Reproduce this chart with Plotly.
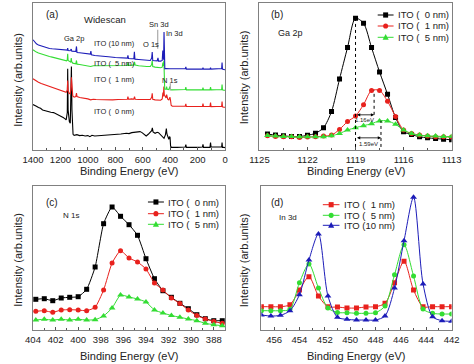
import plotly.graph_objects as go

# ---------------- Panel (a): wide scan ----------------
A0_EV = [1400,1390,1375,1360,1345,1330,1310,1290,1270,1250,1230,1210,1195,1180,1168,1158,1150,1147,1144,1140,1135,1128,1124,1120,1116,1112,1108,1100,1080,1060,1040,1020,1000,985,970,950,900,850,800,760,720,700,680,650,620,605,590,575,560,545,535,530,525,510,495,485,470,455,445,435,428,424,418,410,405,401,397,392,350,300,290,286,282,200,165,161,157,110,106,102,40,25,22,19,10,0]
A0_I = [136,133,131,127,125,120,117,115,113,112,108,105,102,97,94,90,112,243,120,95,85,80,140,250,120,60,47,44,46,43,44,42,43,40,44,42,43,45,46,48,50,49,52,54,55,52,48,42,47,54,58,66,54,50,53,52,46,40,35,45,64,48,38,32,40,38,12,8,8,8,9,16,8,8,9,17,8,8,22,9,8,9,22,8,8,7]

A1_EV = [1400,1390,1375,1360,1340,1320,1300,1280,1260,1240,1220,1200,1185,1170,1158,1150,1147,1144,1138,1130,1124,1120,1116,1110,1100,1088,1083,1079,1060,1040,1020,1000,980,960,940,900,860,820,780,740,712,708,704,680,665,660,655,630,600,570,545,535,531,527,510,495,470,458,453,450,446,443,437,430,426,423,418,410,402,398,393,385,350,300,290,286,282,200,165,161,157,110,106,102,40,25,22,19,10,0]
A1_I = [213,210,206,203,199,196,193,190,188,185,183,180,177,175,173,180,208,178,170,168,180,218,175,162,158,160,170,160,157,156,154,153,150,152,151,150,151,150,151,152,152,160,152,153,152,160,152,151,150,151,151,158,170,152,150,150,149,153,172,160,190,165,160,156,166,158,152,150,158,150,134,131,131,130,131,138,130,130,130,139,130,130,142,130,129,131,145,129,128,128]

A5_EV = [1400,1390,1375,1360,1340,1320,1300,1280,1260,1240,1220,1200,1180,1165,1155,1150,1147,1144,1135,1125,1121,1118,1110,1100,1088,1083,1079,1060,1040,1020,1000,980,960,900,850,800,760,712,708,704,680,665,660,655,630,600,570,545,535,531,527,510,495,470,458,453,450,446,443,440,430,426,422,410,402,398,390,350,300,290,286,282,200,165,161,157,110,106,102,40,25,22,19,10,0]
A5_I = [300,296,293,290,287,284,282,280,278,276,274,272,270,268,267,270,288,268,265,263,275,265,260,258,258,268,257,256,255,254,253,250,252,252,252,252,253,253,262,253,254,254,264,254,252,250,250,250,256,268,250,248,247,246,248,262,252,268,225,182,182,190,182,181,190,181,180,180,180,181,188,180,180,180,187,180,180,188,180,180,181,196,180,179,179]

A10_EV = [1400,1390,1375,1360,1340,1320,1300,1280,1260,1240,1220,1200,1180,1160,1150,1147,1144,1130,1121,1117,1100,1088,1083,1079,1060,1040,1020,1000,982,978,974,950,900,850,800,760,712,708,704,680,665,661,657,630,600,570,545,535,531,527,510,495,489,485,470,458,454,450,448,445,442,439,430,420,400,350,300,290,286,282,200,165,161,157,110,106,102,40,25,22,19,10,0]
A10_I = [330,324,318,314,311,308,305,304,303,302,301,300,299,298,299,305,298,297,302,296,295,295,310,292,291,290,289,288,287,296,285,283,280,279,277,276,275,283,274,273,273,294,272,271,270,269,268,275,293,268,267,267,276,266,266,268,298,272,270,353,260,243,244,243,243,243,242,243,249,242,242,242,246,242,242,246,242,242,244,262,242,241,240]

# ---------------- Panel (b): Ga 2p ----------------
B_EV = [1124.5,1124.0,1123.5,1123.0,1122.5,1122.0,1121.5,1121.0,1120.5,1120.0,1119.5,1119.0,
        1118.5,1118.0,1117.5,1117.0,1116.5,1116.0,1115.5,1115.0,1114.5,1114.0,1113.5,1113.0]
B_0NM = [15.7,14.7,14,13.3,13.3,14.5,16.5,22,38,70,101,130,125,101,77,55,32,18,15.3,13,12,11.3,10.7,10]
B_1NM = [14,13.3,13,13,12.3,12.7,13,13.7,14.7,20.3,28,33.5,44.7,58.7,58.7,48,33,19.7,16.3,14.7,13.7,13,13,12.7]
B_5NM = [14.3,13.7,13.3,13.3,13,13,13,13,14,16.3,19.7,22,24,26,28.7,28.7,25.3,19.7,16.3,14.7,14,13.7,13.3,13.3]

# ---------------- Panel (c): N 1s ----------------
C_EV = [403.75,403.0,402.25,401.5,400.75,400.0,399.25,398.5,397.75,397.0,396.25,395.5,
        394.75,394.0,393.25,392.5,391.75,391.0,390.25,389.5,388.75,388.0,387.25]
C_0NM = [30.7,31.3,29.3,32,32.7,33.3,40.7,63,106.3,123,113.7,105.3,94.7,71.3,51.3,39.3,32.7,26.7,21.3,15.3,11.3,9.3,9.3]
C_1NM = [18.7,19.3,17.7,20,20.3,20,19.3,22.7,40,67,79.3,72,68,61,47,40,32,26.5,20,14.5,11,8.5,6.7]
C_5NM = [10,10.7,10,10.7,10,10.7,10,10.3,14,22,35,33,31,28,20,17,14.5,12.7,11,9.3,6.7,5.3,4.3]

# ---------------- Panel (d): In 3d ----------------
D_EV = [457.0,456.25,455.5,454.75,454.0,453.25,452.5,451.75,451.0,450.25,449.5,448.75,
        448.0,447.25,446.5,445.75,445.0,444.25,443.5,442.75,442.0]
D_1NM = [23.3,23.3,23.3,25.3,40,53.3,34,23.3,23,22,22,23,23.3,26.7,47.3,68.7,40,23.3,23.3,23.3,23.3]
D_5NM = [19.3,19.3,19.3,20.7,47.3,66,42,22,17.5,17.3,16.7,16.7,17.3,24,55.3,85.3,54,21,16.7,16,16]
D_10NM = [15,14,14.7,19.3,35.3,70,96,34,12.7,10.7,10,10,10,14,42,89.3,132.7,46,13.3,9.3,8.7]

BLACK = "#000000"
RED = "#e8211d"
GREEN = "#33dd33"
BLUE = "#1c1cb8"
FONT = "Arial, 'Liberation Sans', sans-serif"

W, H = 474, 364
def px(x):
    return x / W
def py(y):
    return 1 - y / H

fig = go.Figure()

for xs, ys, col in [(A0_EV, A0_I, BLACK), (A1_EV, A1_I, RED), (A5_EV, A5_I, GREEN), (A10_EV, A10_I, BLUE)]:
    fig.add_trace(go.Scatter(x=xs, y=ys, mode="lines", line=dict(color=col, width=1.1),
                             xaxis="x", yaxis="y", showlegend=False))

def mk(xs, ys, col, sym, ax, smooth=0.8, size=5):
    fig.add_trace(go.Scatter(x=xs, y=ys, mode="lines+markers",
                             line=dict(color=col, width=1, shape="spline", smoothing=smooth),
                             marker=dict(color=col, symbol=sym, size=size),
                             xaxis="x" + ax, yaxis="y" + ax, showlegend=False))

mk(B_EV, B_0NM, BLACK, "square", "2")
mk(B_EV, B_1NM, RED, "circle", "2")
mk(B_EV, B_5NM, GREEN, "triangle-up", "2", size=6)

mk(C_EV, C_0NM, BLACK, "square", "3", smooth=0.5)
mk(C_EV, C_1NM, RED, "circle", "3", smooth=0.5)
mk(C_EV, C_5NM, GREEN, "triangle-up", "3", smooth=0.5, size=6)

mk(D_EV, D_1NM, RED, "square", "4")
mk(D_EV, D_5NM, GREEN, "circle", "4")
mk(D_EV, D_10NM, BLUE, "triangle-up", "4", size=6)

FRAME = "#808080"
def xax(rng, dtick, mdtick, dom):
    return dict(domain=dom, range=rng, showgrid=False, zeroline=False, showline=True, mirror=True,
                linecolor=FRAME, linewidth=1.2, ticks="inside", ticklen=3, tickcolor="#555",
                dtick=dtick, tick0=0, minor=dict(dtick=mdtick, ticks="inside", ticklen=2, tickcolor="#555"),
                tickfont=dict(family=FONT, size=9.5, color="#222"))
def yax(rng, dom, anchor):
    return dict(domain=dom, range=rng, showgrid=False, zeroline=False, showline=True, mirror=True,
                linecolor=FRAME, linewidth=1.2, ticks="", showticklabels=False, anchor=anchor)

XA = [px(23), px(224)]
XB = [px(260), px(461)]
XD = [px(262), px(461)]
YTOP = [py(150), py(3)]
YBOT = [py(330), py(186)]

fig.update_layout(
    width=W, height=H, margin=dict(l=0, r=0, t=0, b=0),
    paper_bgcolor="white", plot_bgcolor="white", showlegend=False,
    xaxis=dict(xax([1400, 0], 200, 100, XA), anchor="y"),
    yaxis=yax([0, 440], YTOP, "x"),
    xaxis2=dict(xax([1125, 1113], 3, 1.5, XB), anchor="y2"),
    yaxis2=yax([0, 145], YTOP, "x2"),
    xaxis3=dict(xax([404, 387], 2, 1, XA), anchor="y3"),
    yaxis3=yax([0, 144], YBOT, "x3"),
    xaxis4=dict(xax([457, 442], 2, 1, XD), anchor="y4"),
    yaxis4=yax([0, 144], YBOT, "x4"),
)

ann = []
def txt(x, y, s, size=9.5, xanchor="center", angle=0, color="#222"):
    ann.append(dict(x=px(x), y=py(y), xref="paper", yref="paper", text=s, showarrow=False,
                    xanchor=xanchor, yanchor="middle", textangle=angle,
                    font=dict(family=FONT, size=size, color=color)))

NB = "\u00a0"
for cx, cy in [(123.5, 171), (360.5, 171), (123.5, 356), (361.5, 356)]:
    txt(cx, cy, "Binding Energy (eV)", size=11)
for cx, cy in [(7, 80), (244, 77), (7, 260), (244, 260)]:
    txt(cx, cy, "Intensity (arb.units)", size=11, angle=-90)

# panel a labels
txt(42.7, 15, "(a)", size=10)
txt(98, 19, "Widescan", size=9.5)
txt(66.3, 38.3, "Ga 2p", size=7.5)
txt(154.5, 25, "Sn 3d", size=7.5)
txt(170.7, 33.3, "In 3d", size=7.5)
txt(146.3, 44, "O 1s", size=7.5)
txt(166.3, 80.7, "N 1s", size=7.5)
txt(85, 43.3, "ITO (10 nm)", size=7.5, xanchor="left")
txt(85, 63.3, "ITO (" + NB * 2 + "5 nm)", size=7.5, xanchor="left")
txt(85, 79, "ITO (" + NB * 2 + "1 nm)", size=7.5, xanchor="left")
txt(85, 111.7, "ITO (" + NB * 2 + "0 nm)", size=7.5, xanchor="left")

# panel b/c/d labels
txt(278.7, 15, "(b)", size=10)
txt(292, 33.3, "Ga 2p", size=9)
txt(42.5, 202, "(c)", size=10)
txt(62.5, 215.3, "N 1s", size=8)
txt(278, 202.7, "(d)", size=10)
txt(290.3, 217, "In 3d", size=8)

shapes = []
shapes.append(dict(type="line", xref="x", yref="y", x0=491, x1=491, y0=303, y1=360,
                   line=dict(color="#aaaaaa", width=1.2)))
shapes.append(dict(type="line", xref="x", yref="y", x0=399, x1=399, y0=178, y1=200,
                   line=dict(color="#aaaaaa", width=1.2)))

for x0, y0, y1 in [(1119.0, 3, 130), (1117.84, 34.7, 58.7), (1117.41, 3, 29)]:
    shapes.append(dict(type="line", xref="x2", yref="y2", x0=x0, x1=x0, y0=y0, y1=y1,
                       line=dict(color=BLACK, width=1, dash="dot")))
for xe, yv in [(1117.84, 34.7), (1117.41, 12)]:
    ann.append(dict(x=xe, y=yv, ax=1119.0, ay=yv, xref="x2", yref="y2", axref="x2", ayref="y2",
                    text="", showarrow=True, arrowhead=2, arrowside="end+start", arrowsize=0.8,
                    arrowwidth=0.8, arrowcolor=BLACK))
ann.append(dict(x=1118.42, y=29.5, xref="x2", yref="y2", text="1.16eV", showarrow=False,
                font=dict(family=FONT, size=6, color="#222")))
ann.append(dict(x=1118.2, y=6.3, xref="x2", yref="y2", text="1.59eV", showarrow=False,
                font=dict(family=FONT, size=6, color="#222")))

def leg_entry(x0, x1, y, col, sym, label):
    shapes.append(dict(type="line", xref="paper", yref="paper", x0=px(x0), x1=px(x1), y0=py(y), y1=py(y),
                       line=dict(color=col, width=1)))
    cx = (x0 + x1) / 2
    r = 2.6
    if sym == "square":
        shapes.append(dict(type="rect", xref="paper", yref="paper", x0=px(cx - r), x1=px(cx + r),
                           y0=py(y + r), y1=py(y - r), fillcolor=col, line=dict(width=0)))
    elif sym == "circle":
        shapes.append(dict(type="circle", xref="paper", yref="paper", x0=px(cx - r), x1=px(cx + r),
                           y0=py(y + r), y1=py(y - r), fillcolor=col, line=dict(width=0)))
    else:
        path = "M %f,%f L %f,%f L %f,%f Z" % (px(cx - 3.2), py(y + 2.4), px(cx + 3.2), py(y + 2.4), px(cx), py(y - 3.2))
        shapes.append(dict(type="path", xref="paper", yref="paper", path=path, fillcolor=col, line=dict(width=0)))
    txt(x1 + 2.5, y, label, size=9.5, xanchor="left")

L0 = "ITO (" + NB * 2 + "0 nm)"
L1 = "ITO (" + NB * 2 + "1 nm)"
L5 = "ITO (" + NB * 2 + "5 nm)"
L10 = "ITO (10 nm)"
for y, col, sym, lab in [(15, BLACK, "square", L0), (26, RED, "circle", L1), (37.3, GREEN, "tri", L5)]:
    leg_entry(383.7, 400.3, y, col, sym, lab)
for y, col, sym, lab in [(202, BLACK, "square", L0), (213.7, RED, "circle", L1), (224.3, GREEN, "tri", L5)]:
    leg_entry(143.3, 160, y, col, sym, lab)
for y, col, sym, lab in [(204.7, RED, "square", L1), (215.3, GREEN, "circle", L5), (225.3, BLUE, "tri", L10)]:
    leg_entry(326.3, 343.7, y, col, sym, lab)

fig.update_layout(annotations=ann, shapes=shapes)
fig.write_html("out.html", config={"displayModeBar": False},
               post_script="document.body.style.margin='0';document.body.style.overflow='hidden';")
